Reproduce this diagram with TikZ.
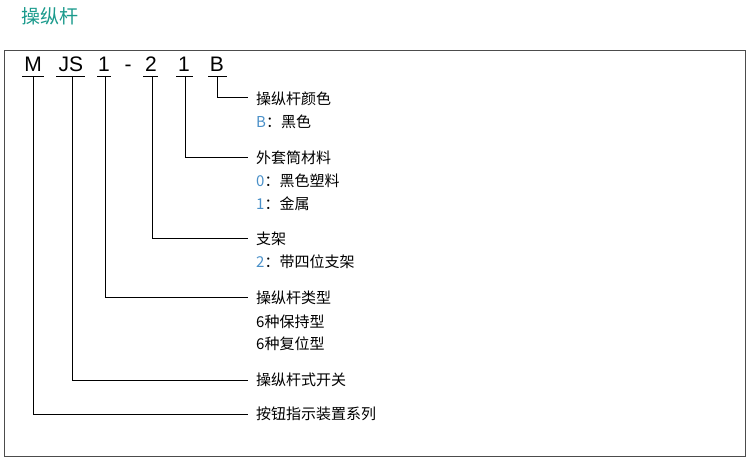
\documentclass[tikz,border=0pt]{standalone}
\usepackage{fontspec}
\setmainfont{Liberation Sans}
\newfontfamily\cjk{Noto Sans CJK SC}
\definecolor{teal1}{HTML}{1A9A8C}
\definecolor{blue1}{HTML}{4A90C8}
\begin{document}
\begin{tikzpicture}[x=1pt,y=-1pt,
  code/.style={font=\fontsize{21}{21}\selectfont, anchor=base, inner sep=0pt},
  lbl/.style={font=\cjk\fontsize{15}{15}\selectfont, anchor=west, inner sep=0pt},
  ln/.style={draw=black, line width=0.7pt}]
\useasboundingbox (0,0) rectangle (750,463);
\node[anchor=west, inner sep=0pt, text=teal1, font=\cjk\fontsize{19}{19}\selectfont] (title) at (21,16) {操纵杆};
\draw[draw=black!70, line width=0.6pt] (4,50) rectangle (745,456);
\node[code] (cM) at (33,71) {M};
\node[code] (cJS) at (71,71) {JS};
\node[code] (c1) at (104,71) {1};
\node[code] (cd) at (128,71) {-};
\node[code] (c2) at (151,71) {2};
\node[code] (c3) at (184,71) {1};
\node[code] (cB) at (217,71) {B};
\foreach \a/\b in {22/44,56/85,97/111,143/158,176/193,208/227}
  \draw[ln] (\a,76) -- (\b,76);
\node[lbl] (t1) at (256,99) {操纵杆颜色};
\node[lbl] (t1a) at (256,122) {\textcolor{blue1}{B}：黑色};
\node[lbl] (t2) at (256,158) {外套筒材料};
\node[lbl] (t2a) at (256,181) {\textcolor{blue1}{0}：黑色塑料};
\node[lbl] (t2b) at (256,204) {\textcolor{blue1}{1}：金属};
\node[lbl] (t3) at (256,239) {支架};
\node[lbl] (t3a) at (256,262) {\textcolor{blue1}{2}：带四位支架};
\node[lbl] (t4) at (256,298) {操纵杆类型};
\node[lbl] (t4a) at (256,322) {6种保持型};
\node[lbl] (t4b) at (256,344) {6种复位型};
\node[lbl] (t5) at (256,380) {操纵杆式开关};
\node[lbl] (t6) at (256,414) {按钮指示装置系列};
\foreach \x/\y in {217/97,185/157,152/238,105/297,72/380,33/414}
  \draw[ln] (\x,76) -- (\x,\y) -- (248,\y);
\end{tikzpicture}
\end{document}
